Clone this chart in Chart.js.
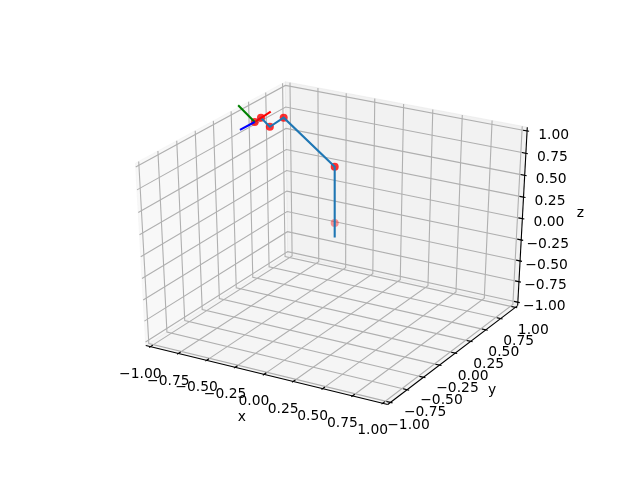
<!DOCTYPE html>
<html>
<head>
<meta charset="utf-8">
<title>3D arm</title>
<script src="https://cdn.jsdelivr.net/npm/chart.js@4"></script>
<style>
  html, body { margin: 0; padding: 0; background: #fff; }
  canvas { display: block; }
</style>
</head>
<body>
<canvas id="grafico" width="640" height="480"></canvas>
<script>
// values
const tickValues = [-1, -0.75, -0.5, -0.25, 0, 0.25, 0.5, 0.75, 1];
const tickLabels = ['\u22121.00', '\u22120.75', '\u22120.50', '\u22120.25', '0.00', '0.25', '0.50', '0.75', '1.00'];

const armX = [0, 0, 0, -0.43, -0.55, -0.625, -0.68];
const armY = [0, 0, 0, 0, 0, 0, 0];
const armZ = [0, 0.165, 0.80, 1.23, 1.10, 1.18, 1.12];

const frameEndX = [-0.54, -0.82, -0.81];
const frameEndY = [0, 0, 0];
const frameEndZ = [1.27, 1.27, 1.00];

// same camera as a default mplot3d axes
const DIST = 10;
const elev = 30 * Math.PI / 180;
const azim = -60 * Math.PI / 180;
const n = [Math.cos(elev) * Math.cos(azim), Math.cos(elev) * Math.sin(azim), Math.sin(elev)];
const u = [-Math.sin(azim), Math.cos(azim), 0];
const v = [n[1] * u[2] - n[2] * u[1], n[2] * u[0] - n[0] * u[2], n[0] * u[1] - n[1] * u[0]];

function dot(a, b) { return a[0] * b[0] + a[1] * b[1] + a[2] * b[2]; }

function projetar(x, y, z) {
    const c = [x / 2, y / 2, z / 2];
    const w = DIST - dot(c, n);
    return { x: dot(c, u) / w, y: dot(c, v) / w };
}

const B = 1 + 1 / 24; // pane edge, limits plus the mplot3d margin
const tickFora = 0.1 / 6;
const tickDentro = 0.2 / 6;

function linha(pontos, cor, largura) {
    return {
        data: pontos.map(p => projetar(p[0], p[1], p[2])),
        showLine: true,
        borderColor: cor,
        borderWidth: largura,
        pointRadius: 0,
        clip: false,
        tension: 0
    };
}

const listas = [];

// grid
tickValues.forEach(t => {
    listas.push(linha([[t, -B, -B], [t, B, -B], [t, B, B]], '#b0b0b0', 1.1));
    listas.push(linha([[B, t, -B], [-B, t, -B], [-B, t, B]], '#b0b0b0', 1.1));
    listas.push(linha([[-B, -B, t], [-B, B, t], [B, B, t]], '#b0b0b0', 1.1));
});

// axis lines
listas.push(linha([[-B, -B, -B], [B, -B, -B]], '#000', 1.1));
listas.push(linha([[B, -B, -B], [B, B, -B]], '#000', 1.1));
listas.push(linha([[B, B, -B], [B, B, B]], '#000', 1.1));

// ticks
tickValues.forEach(t => {
    listas.push(linha([[t, -B - tickFora, -B], [t, -B + tickDentro, -B]], '#000', 1.1));
    listas.push(linha([[B + tickFora, t, -B], [B - tickDentro, t, -B]], '#000', 1.1));
    listas.push(linha([[B + tickFora, B, t], [B - tickDentro, B, t]], '#000', 1.1));
});

// joints, the low one fades with depth
const indicesJuntas = armX.map((_, i) => i).slice(1);
listas.push({
    data: indicesJuntas.map(i => projetar(armX[i], armY[i], armZ[i])),
    showLine: false,
    pointRadius: 4,
    pointBorderWidth: 0,
    pointBackgroundColor: indicesJuntas.map(i => armZ[i] < 0.5 ? 'rgba(255,0,0,0.4)' : 'rgba(255,0,0,0.8)'),
    clip: false
});

// arm line
listas.push(linha(armX.map((x, i) => [x, armY[i], armZ[i]]), '#1f77b4', 2.08));

// end frame, on top of the arm
const ultimo = armX.length - 1;
const base = [armX[ultimo], armY[ultimo], armZ[ultimo]];
const coresFrame = ['#ff0000', '#008000', '#0000ff'];
frameEndX.forEach((x, i) => {
    listas.push(linha([base, [x, frameEndY[i], frameEndZ[i]]], coresFrame[i], 2.08));
});

const planos = [
    { cor: 'rgba(242,242,242,0.5)', cantos: [[-B, -B, -B], [-B, B, -B], [-B, B, B], [-B, -B, B]] },
    { cor: 'rgba(230,230,230,0.5)', cantos: [[-B, B, -B], [B, B, -B], [B, B, B], [-B, B, B]] },
    { cor: 'rgba(236,236,236,0.5)', cantos: [[-B, -B, -B], [B, -B, -B], [B, B, -B], [-B, B, -B]] }
];

const paineis = {
    id: 'paineis',
    beforeDatasetsDraw(chart) {
        const { ctx, scales } = chart;
        ctx.save();
        ctx.lineWidth = 1;
        planos.forEach(p => {
            ctx.beginPath();
            p.cantos.forEach((c, i) => {
                const q = projetar(c[0], c[1], c[2]);
                const px = scales.x.getPixelForValue(q.x);
                const py = scales.y.getPixelForValue(q.y);
                if (i === 0) ctx.moveTo(px, py); else ctx.lineTo(px, py);
            });
            ctx.closePath();
            ctx.fillStyle = p.cor;
            ctx.strokeStyle = p.cor;
            ctx.fill();
            ctx.stroke();
        });
        ctx.restore();
    }
};

const textos = {
    id: 'textos',
    afterDatasetsDraw(chart) {
        const { ctx, scales } = chart;
        function escrever(txt, p3, dx, dy) {
            const q = projetar(p3[0], p3[1], p3[2]);
            ctx.fillText(txt, scales.x.getPixelForValue(q.x) + dx, scales.y.getPixelForValue(q.y) + dy);
        }
        ctx.save();
        ctx.font = "13.89px 'DejaVu Sans'";
        ctx.fillStyle = '#000';
        ctx.textAlign = 'center';
        ctx.textBaseline = 'middle';
        tickValues.forEach((t, i) => {
            escrever(tickLabels[i], [t, -B, -B], -10, 27.5);
            escrever(tickLabels[i], [B, t, -B], 18, 23);
            escrever(tickLabels[i], [B, B, t], 26.5, 4);
        });
        escrever('x', [0, -B, -B], -22, 43);
        escrever('y', [B, 0, -B], 37, 37);
        escrever('z', [B, B, 0], 58, -5);
        ctx.restore();
    }
};

new Chart(document.getElementById('grafico'), {
    type: 'scatter',
    data: { datasets: listas.slice().reverse() },
    options: {
        responsive: false,
        animation: false,
        devicePixelRatio: 1,
        events: [],
        layout: { padding: { left: 80, right: 64, top: 57.6, bottom: 52.8 } },
        plugins: { legend: { display: false }, tooltip: { enabled: false } },
        scales: {
            x: { display: false, min: -0.095, max: 0.09 },
            y: { display: false, min: -0.095, max: 0.09 }
        }
    },
    plugins: [paineis, textos]
});
</script>
</body>
</html>
